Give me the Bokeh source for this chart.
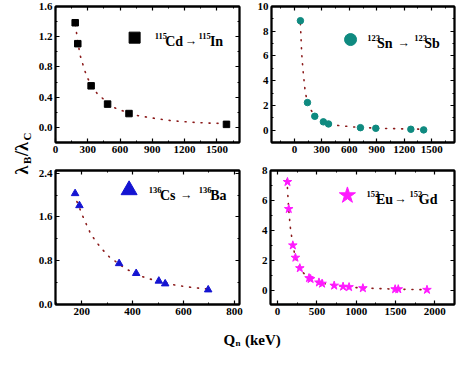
import numpy as np
from bokeh.plotting import figure
from bokeh.models import FixedTicker, LinearAxis, Label, Range1d, NumeralTickFormatter
from bokeh.layouts import row, column
from bokeh.embed import file_html
from bokeh.resources import INLINE

# ---------------- data ----------------
cd_q = [183, 207, 331, 484, 683, 1589]
cd_r = [1.385, 1.108, 0.55, 0.308, 0.183, 0.04]
cd_fit_q = [185, 192, 227, 272, 301, 390, 544, 612, 765, 922, 1070, 1247, 1400, 1600]
cd_fit_r = [1.36, 1.284, 0.964, 0.75, 0.644, 0.44, 0.262, 0.225, 0.156, 0.119, 0.09, 0.07, 0.058, 0.05]

sn_q = [66, 143, 223, 317, 373, 722, 890, 1273, 1413]
sn_r = [8.85, 2.23, 1.12, 0.67, 0.5, 0.2, 0.15, 0.07, 0.02]
sn_fit_q = [66, 80, 94, 119, 143, 171, 223, 303, 478, 700, 931, 1200, 1420]
sn_fit_r = [8.6, 6.2, 4.875, 3.05, 2.3, 1.75, 1.15, 0.65, 0.375, 0.22, 0.15, 0.1, 0.075]

cs_q = [174, 191, 347, 414, 503, 528, 697]
cs_r = [2.03, 1.81, 0.75, 0.57, 0.43, 0.38, 0.27]
cs_fit_q = [181, 204, 219, 234, 254, 279, 309, 373, 438, 469, 570, 632, 707]
cs_fit_r = [1.884, 1.617, 1.458, 1.305, 1.163, 1.016, 0.868, 0.652, 0.51, 0.465, 0.352, 0.312, 0.277]

eu_q = [126, 142, 194, 227, 283, 400, 420, 526, 566, 720, 833, 909, 1085, 1495, 1535, 1900]
eu_r = [7.24, 5.44, 3.02, 2.2, 1.5, 0.84, 0.78, 0.55, 0.47, 0.34, 0.27, 0.24, 0.17, 0.1, 0.1, 0.06]
eu_fit_q = [120, 130, 142, 160, 194, 227, 250, 287, 327, 400, 457, 526, 618, 780, 982, 1184, 1500, 1900]
eu_fit_r = [7.4, 6.4, 5.4, 4.3, 3.05, 2.2, 1.85, 1.5, 1.19, 0.85, 0.66, 0.55, 0.45, 0.31, 0.21, 0.16, 0.1, 0.06]

# tick positions
p1_xt = [0, 300, 600, 900, 1200, 1500]
p1_xm = [150, 450, 750, 1050, 1350, 1650]
p1_yt = [0.0, 0.4, 0.8, 1.2, 1.6]
p1_ym = [-0.2, 0.2, 0.6, 1.0, 1.4]
p2_xt = [0, 300, 600, 900, 1200, 1500]
p2_xm = [-150, 150, 450, 750, 1050, 1350, 1650]
p2_yt = [0, 2, 4, 6, 8, 10]
p2_ym = [-1, 1, 3, 5, 7, 9]
p3_xt = [200, 400, 600, 800]
p3_xm = [100, 300, 500, 700]
p3_yt = [0.0, 0.8, 1.6, 2.4]
p3_ym = [0.4, 1.2, 2.0]
p4_xt = [0, 500, 1000, 1500, 2000]
p4_xm = [250, 750, 1250, 1750]
p4_yt = [0, 2, 4, 6, 8]
p4_ym = [1, 3, 5, 7]

FONT = "Liberation Serif"
FIT_COLOR = "#8b1a1a"


def make_panel(width, height, left, right, top, bottom, xr, yr, xt, xm, yt, ym, yfmt=None):
    p = figure(width=width, height=height, x_range=Range1d(*xr), y_range=Range1d(*yr),
               output_backend="svg", toolbar_location=None,
               min_border_left=left, min_border_right=right,
               min_border_top=top, min_border_bottom=bottom)
    p.grid.visible = False
    p.outline_line_color = "black"
    p.outline_line_width = 1.8
    xtk = FixedTicker(ticks=xt, minor_ticks=xm)
    ytk = FixedTicker(ticks=yt, minor_ticks=ym)
    p.xaxis.ticker = xtk
    p.yaxis.ticker = ytk
    if yfmt:
        p.yaxis.formatter = NumeralTickFormatter(format=yfmt)
    top_ax = LinearAxis(ticker=xtk)
    right_ax = LinearAxis(ticker=ytk)
    p.add_layout(top_ax, "above")
    p.add_layout(right_ax, "right")
    for ax in p.axis:
        ax.axis_line_color = "black"
        ax.axis_line_width = 1.8
        ax.major_tick_in = 4
        ax.major_tick_out = 0
        ax.minor_tick_in = 2
        ax.minor_tick_out = 0
        ax.major_tick_line_width = 1.2
        ax.minor_tick_line_width = 1.0
        ax.major_label_text_font = FONT
        ax.major_label_text_font_style = "bold"
        ax.major_label_text_font_size = "11px"
        ax.major_label_text_color = "black"
        ax.major_label_standoff = 3
    for ax in (top_ax, right_ax):
        ax.major_label_text_color = None
        ax.major_label_text_font_size = "0px"
        ax.major_label_standoff = 0
    return p


def fx(p, f):
    return p.x_range.start + f * (p.x_range.end - p.x_range.start)


def fy(p, f):
    return p.y_range.start + f * (p.y_range.end - p.y_range.start)


def legend(p, marker, color, msize, mpos, base, sup, pieces):
    p.scatter([fx(p, mpos[0])], [fy(p, mpos[1])], marker=marker, size=msize,
              fill_color=color, line_color=color)
    for text, f, kind in pieces:
        if kind == "sup":
            p.add_layout(Label(x=fx(p, f), y=fy(p, sup), text=text, text_font=FONT,
                               text_font_style="bold", text_font_size="8.5px",
                               text_align="left", text_baseline="alphabetic", text_color="black"))
        elif kind == "arrow":
            p.add_layout(Label(x=fx(p, f + 0.004), y=fy(p, base + 0.005), text=text, text_font=FONT,
                               text_font_style="normal", text_font_size="12.5px",
                               text_align="center", text_baseline="alphabetic", text_color="black"))
        else:
            p.add_layout(Label(x=fx(p, f), y=fy(p, base), text=text, text_font=FONT,
                               text_font_style="bold", text_font_size="14px",
                               text_align="left", text_baseline="alphabetic", text_color="black"))


# ---------------- panel 1 ----------------
p1 = make_panel(222, 164, 23, 15, 5, 22, (0, 1710), (-0.2, 1.6), p1_xt, p1_xm, p1_yt, p1_ym, "0.0")
p1.line(cd_fit_q, cd_fit_r, line_color=FIT_COLOR, line_width=1.6, line_dash="1 7", line_cap="round")
p1.scatter(cd_q, cd_r, marker="square", size=6.5, fill_color="black", line_color="black")
legend(p1, "square", "black", 11, (0.430, 0.771), 0.739, 0.780,
       [("115", 0.539, "sup"), ("Cd", 0.596, "main"), ("\u2192", 0.733, "arrow"),
        ("115", 0.777, "sup"), ("In", 0.839, "main")])

# ---------------- panel 2 ----------------
TEAL = "#0f8a80"
p2 = make_panel(202, 164, 16, 2, 6, 22, (-250, 1750), (-1, 10), p2_xt, p2_xm, p2_yt, p2_ym)
p2.line(sn_fit_q, sn_fit_r, line_color=FIT_COLOR, line_width=1.6, line_dash="1 7", line_cap="round")
p2.scatter(sn_q, sn_r, marker="circle", size=6.5, fill_color=TEAL, line_color=TEAL)
legend(p2, "circle", TEAL, 12, (0.432, 0.757), 0.730, 0.771,
       [("123", 0.523, "sup"), ("Sn", 0.576, "main"), ("\u2192", 0.719, "arrow"),
        ("123", 0.780, "sup"), ("Sb", 0.835, "main")])

# ---------------- panel 3 ----------------
BLUE = "#1414d2"
p3 = make_panel(222, 158, 23, 15, 6, 17, (97, 820), (0, 2.45), p3_xt, p3_xm, p3_yt, p3_ym, "0.0")
p3.line(cs_fit_q, cs_fit_r, line_color=FIT_COLOR, line_width=1.6, line_dash="1 7", line_cap="round")
p3.scatter(cs_q, cs_r, marker="triangle", size=7.5, fill_color=BLUE, line_color=BLUE)
legend(p3, "triangle", BLUE, 16, (0.40, 0.854), 0.815, 0.857,
       [("136", 0.507, "sup"), ("Cs", 0.568, "main"), ("\u2192", 0.706, "arrow"),
        ("136", 0.779, "sup"), ("Ba", 0.841, "main")])

# ---------------- panel 4 ----------------
MAG = "#ff1aff"
p4 = make_panel(202, 158, 16, 2, 4, 18, (-90, 2250), (-0.92, 8.0), p4_xt, p4_xm, p4_yt, p4_ym)
p4.line(eu_fit_q, eu_fit_r, line_color=FIT_COLOR, line_width=1.6, line_dash="1 7", line_cap="round")
p4.scatter(eu_q, eu_r, marker="star", size=9, fill_color=MAG, line_color=MAG)
legend(p4, "star", MAG, 17, (0.418, 0.814), 0.784, 0.825,
       [("152", 0.522, "sup"), ("Eu", 0.573, "main"), ("\u2192", 0.703, "arrow"),
        ("152", 0.755, "sup"), ("Gd", 0.806, "main")])

# ---------------- axis titles ----------------
lab = figure(width=32, height=348, x_range=Range1d(0, 32), y_range=Range1d(0, 348),
             min_border=0, output_backend="svg", toolbar_location=None,
             x_axis_location=None, y_axis_location=None)
lab.grid.visible = False
lab.outline_line_color = None
for text, x, y, size in [("\u03bb", 21, 174, "18px"), ("B", 26, 184.5, "11px"),
                         ("/", 21, 192.5, "18px"), ("\u03bb", 21, 197.5, "18px"),
                         ("C", 26, 208, "11px")]:
    lab.add_layout(Label(x=x, y=y, text=text, angle=np.pi / 2, text_font=FONT,
                         text_font_style="bold", text_font_size=size, text_align="left",
                         text_baseline="alphabetic", text_color="black"))

xlab = figure(width=424, height=26, x_range=Range1d(0, 424), y_range=Range1d(0, 26),
              min_border=0, output_backend="svg", toolbar_location=None,
              x_axis_location=None, y_axis_location=None)
xlab.grid.visible = False
xlab.outline_line_color = None
for text, x, y, size in [("Q", 191, 9, "15px"), ("n", 203, 5.5, "9px"), ("(keV)", 212.5, 9, "15px")]:
    xlab.add_layout(Label(x=x, y=y, text=text, text_font=FONT, text_font_style="bold",
                          text_font_size=size, text_align="left", text_baseline="alphabetic",
                          text_color="black"))

layout = row(lab, column(row(p1, p2), row(p3, p4), xlab))

open("out.html", "w").write(file_html(layout, INLINE))
